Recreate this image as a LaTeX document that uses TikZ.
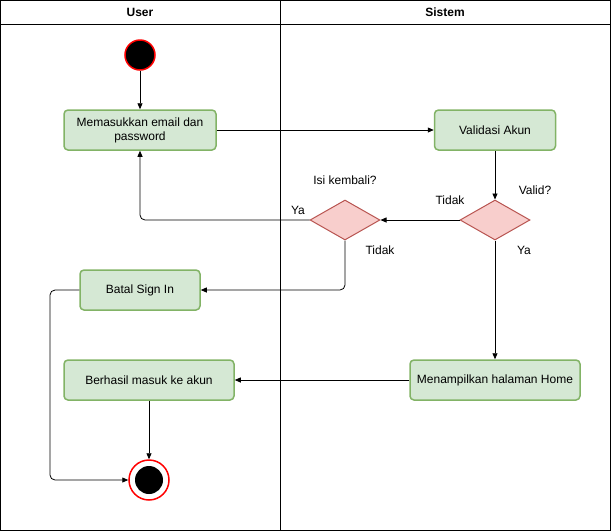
\documentclass[tikz,border=0pt]{standalone}
\usepackage{fontspec}
\setmainfont{Liberation Sans}
\usetikzlibrary{shapes.geometric,arrows.meta}
\definecolor{gf}{HTML}{D5E8D4}\definecolor{gs}{HTML}{82B366}
\definecolor{rf}{HTML}{F8CECC}\definecolor{rs}{HTML}{B85450}
\begin{document}
\begin{tikzpicture}[x=1pt,y=-1pt,font=\fontsize{12}{14}\selectfont,
 act/.style={draw=gs,fill=gf,line width=1.5pt,rounded corners=4pt,minimum height=40pt,align=center},
 dec/.style={diamond,draw=rs,fill=rf,line width=1pt,minimum width=70pt,minimum height=40pt,inner sep=0pt,aspect=1.75},
 ar/.style={-{Triangle[length=6pt,width=5pt]},line width=0.8pt},
 lbl/.style={inner sep=1pt}]
\useasboundingbox (0,0) rectangle (611,531);
\draw[line width=0.8pt] (0.5,0.5) rectangle (610.5,530.5);
\draw[line width=0.8pt] (0.5,24) -- (610.5,24) (280,0.5) -- (280,530.5);
\node[font=\fontsize{12}{14}\selectfont\bfseries] (hu) at (140,12) {User};
\node[font=\fontsize{12}{14}\selectfont\bfseries] (hs) at (445,12) {Sistem};
\node[circle,draw=red,fill=black,line width=1.5pt,minimum size=30pt,inner sep=0pt] (s) at (140,55) {};
\node[act,minimum width=152pt] (n1) at (140,130) {Memasukkan email dan\\password};
\node[act,minimum width=121pt] (va) at (495,130) {Validasi Akun};
\node[dec] (d1) at (495,220) {};
\node[dec] (d2) at (345,220) {};
\node[act,minimum width=120pt] (bs) at (140,290) {Batal Sign In};
\node[act,minimum width=170pt] (bm) at (149,380) {Berhasil masuk ke akun};
\node[act,minimum width=170pt] (mh) at (495,380) {Menampilkan halaman Home};
\node[circle,draw=red,fill=white,line width=1.5pt,minimum size=40pt,inner sep=0pt] (e) at (149,480) {};
\node[circle,fill=black,minimum size=28pt,inner sep=0pt] (ei) at (149,480) {};
\node[lbl] (l1) at (345,180) {Isi kembali?};
\node[lbl] (l2) at (535,190) {Valid?};
\node[lbl] (l3) at (450,200) {Tidak};
\node[lbl] (l4) at (524,250) {Ya};
\node[lbl] (l5) at (298,210) {Ya};
\node[lbl] (l6) at (380,250) {Tidak};
\draw[ar] (s) -- (n1);
\draw[ar] (n1) -- (va);
\draw[ar] (va) -- (d1);
\draw[ar] (d1) -- (d2);
\draw[ar] (d1) -- (mh);
\draw[ar,rounded corners=5pt] (d2.west) -| (n1.south);
\draw[ar,rounded corners=5pt] (d2.south) |- (bs.east);
\draw[ar] (mh) -- (bm);
\draw[ar] (bm) -- (e);
\draw[ar,rounded corners=5pt] (bs.west) -- (50,290) -- (50,480) -- (e.west);
\end{tikzpicture}
\end{document}
